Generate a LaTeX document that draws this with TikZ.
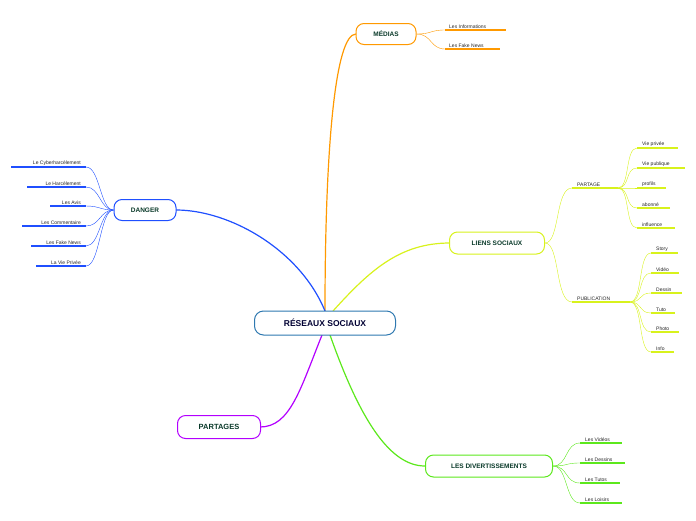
\documentclass[tikz,border=0pt]{standalone}
\usepackage{fontspec}
\setmainfont{Liberation Sans}
\definecolor{cOr}{HTML}{FF9900}
\definecolor{cBl}{HTML}{1F4FFF}
\definecolor{cYe}{HTML}{D8F21C}
\definecolor{cPu}{HTML}{B300FF}
\definecolor{cGr}{HTML}{5CE81C}
\definecolor{cMain}{HTML}{2E78B0}
\definecolor{cTxt}{HTML}{0A3A2A}
\begin{document}
\begin{tikzpicture}[x=1pt,y=-1pt,
  topic/.style={draw,rounded corners=8pt,line width=1pt,fill=white,font=\bfseries\fontsize{6.5}{7}\selectfont,text=cTxt,align=center},
  leaf/.style={font=\fontsize{5}{6}\selectfont,inner sep=1pt,text=black!85},
  ul/.style={line width=1.1pt},
  br/.style={line width=1.2pt},
  tw/.style={line width=0.4pt}]
\useasboundingbox (0,0) rectangle (696,520);
% main branches
\coordinate (ct) at (325,311);
\coordinate (cb) at (325,335);
\draw[br,cOr] (ct) .. controls (325,150) and (335,34) .. (356,34);
\draw[br,cBl] (ct) .. controls (300,250) and (230,210) .. (176,210);
\draw[br,cYe] (333,311) .. controls (370,270) and (400,243) .. (450,243);
\draw[br,cPu] (322,335) .. controls (300,390) and (290,427) .. (260,427);
\draw[br,cGr] (330,335) .. controls (360,420) and (390,466) .. (425,466);
\node[draw=cMain,line width=1pt,rounded corners=9pt,fill=white,minimum width=141pt,minimum height=24pt,font=\bfseries\fontsize{8.5}{10}\selectfont,text=black!80!blue] (c) at (325,323) {RÉSEAUX SOCIAUX};
\node[topic,draw=cOr,minimum width=60pt,minimum height=21pt] (med) at (386,34) {MÉDIAS};
\node[topic,draw=cBl,minimum width=62pt,minimum height=21pt] (dan) at (145,210) {DANGER};
\node[topic,draw=cYe,minimum width=95pt,minimum height=22pt] (lie) at (497,243) {LIENS SOCIAUX};
\node[topic,draw=cPu,minimum width=83pt,minimum height=23pt,font=\bfseries\fontsize{7.5}{9}\selectfont] (par) at (219,427) {PARTAGES};
\node[topic,draw=cGr,minimum width=127pt,minimum height=22pt] (div) at (489,466) {LES DIVERTISSEMENTS};
% medias
\foreach \n/\y/\e/\t in {m1/30/506/Les Informations, m2/49/500/Les Fake News}{
  \coordinate (\n a) at (445,\y); \coordinate (\n b) at (\e,\y);
  \draw[tw,cOr] (med.east) .. controls (432,34) and (430,\y) .. (\n a);
  \draw[ul,cOr] (\n a)--(\n b);
  \node[leaf,anchor=south west] (\n) at ([xshift=3pt]\n a) {\t};}
% danger
\foreach \n/\y/\s/\t in {d1/167/11/Le Cyberharcèlement, d2/187/27/Le Harcèlement, d3/206/50/Les Avis, d4/226/22/Les Commentaire, d5/246/31/Les Fake News, d6/266/36/La Vie Privée}{
  \coordinate (\n a) at (86,\y); \coordinate (\n b) at (\s,\y);
  \draw[tw,cBl] (dan.west) .. controls (100,210) and (100,\y) .. (\n a);
  \draw[ul,cBl] (\n a)--(\n b);
  \node[leaf,anchor=south east] (\n) at ([xshift=-4pt]\n a) {\t};}
% liens
\coordinate (pa) at (572,188); \coordinate (pae) at (618,188);
\coordinate (pu) at (572,302); \coordinate (pue) at (630,302);
\draw[tw,cYe] (lie.east) .. controls (560,243) and (555,188) .. (pa);
\draw[tw,cYe] (lie.east) .. controls (560,243) and (555,302) .. (pu);
\draw[ul,cYe] (pa)--(pae); \draw[ul,cYe] (pu)--(pue);
\node[leaf,anchor=south west] (pat) at ([xshift=4pt]pa) {PARTAGE};
\node[leaf,anchor=south west] (put) at ([xshift=4pt]pu) {PUBLICATION};
\foreach \n/\y/\e/\t in {p1/148/678/Vie privée, p2/168/685/Vie publique, p3/188/666/profils, p4/208/670/abonné, p5/228/675/influence}{
  \coordinate (\n a) at (637,\y); \coordinate (\n b) at (\e,\y);
  \draw[tw,cYe] (pae) .. controls (630,188) and (625,\y) .. (\n a);
  \draw[ul,cYe] (\n a)--(\n b);
  \node[leaf,anchor=south west] (\n) at ([xshift=4pt]\n a) {\t};}
\foreach \n/\y/\e/\t in {q1/253/678/Story, q2/273/679/Vidéo, q3/293/682/Dessin, q4/313/675/Tuto, q5/332/679/Photo, q6/352/674/Info}{
  \coordinate (\n a) at (651,\y); \coordinate (\n b) at (\e,\y);
  \draw[tw,cYe] (pue) .. controls (643,302) and (638,\y) .. (\n a);
  \draw[ul,cYe] (\n a)--(\n b);
  \node[leaf,anchor=south west] (\n) at ([xshift=4pt]\n a) {\t};}
% divertissements
\foreach \n/\y/\e/\t in {v1/443/622/Les Vidéos, v2/463/625/Les Dessins, v3/483/620/Les Tutos, v4/503/622/Les Loisirs}{
  \coordinate (\n a) at (580,\y); \coordinate (\n b) at (\e,\y);
  \draw[tw,cGr] (div.east) .. controls (568,466) and (565,\y) .. (\n a);
  \draw[ul,cGr] (\n a)--(\n b);
  \node[leaf,anchor=south west] (\n) at ([xshift=4pt]\n a) {\t};}
\end{tikzpicture}
\end{document}
